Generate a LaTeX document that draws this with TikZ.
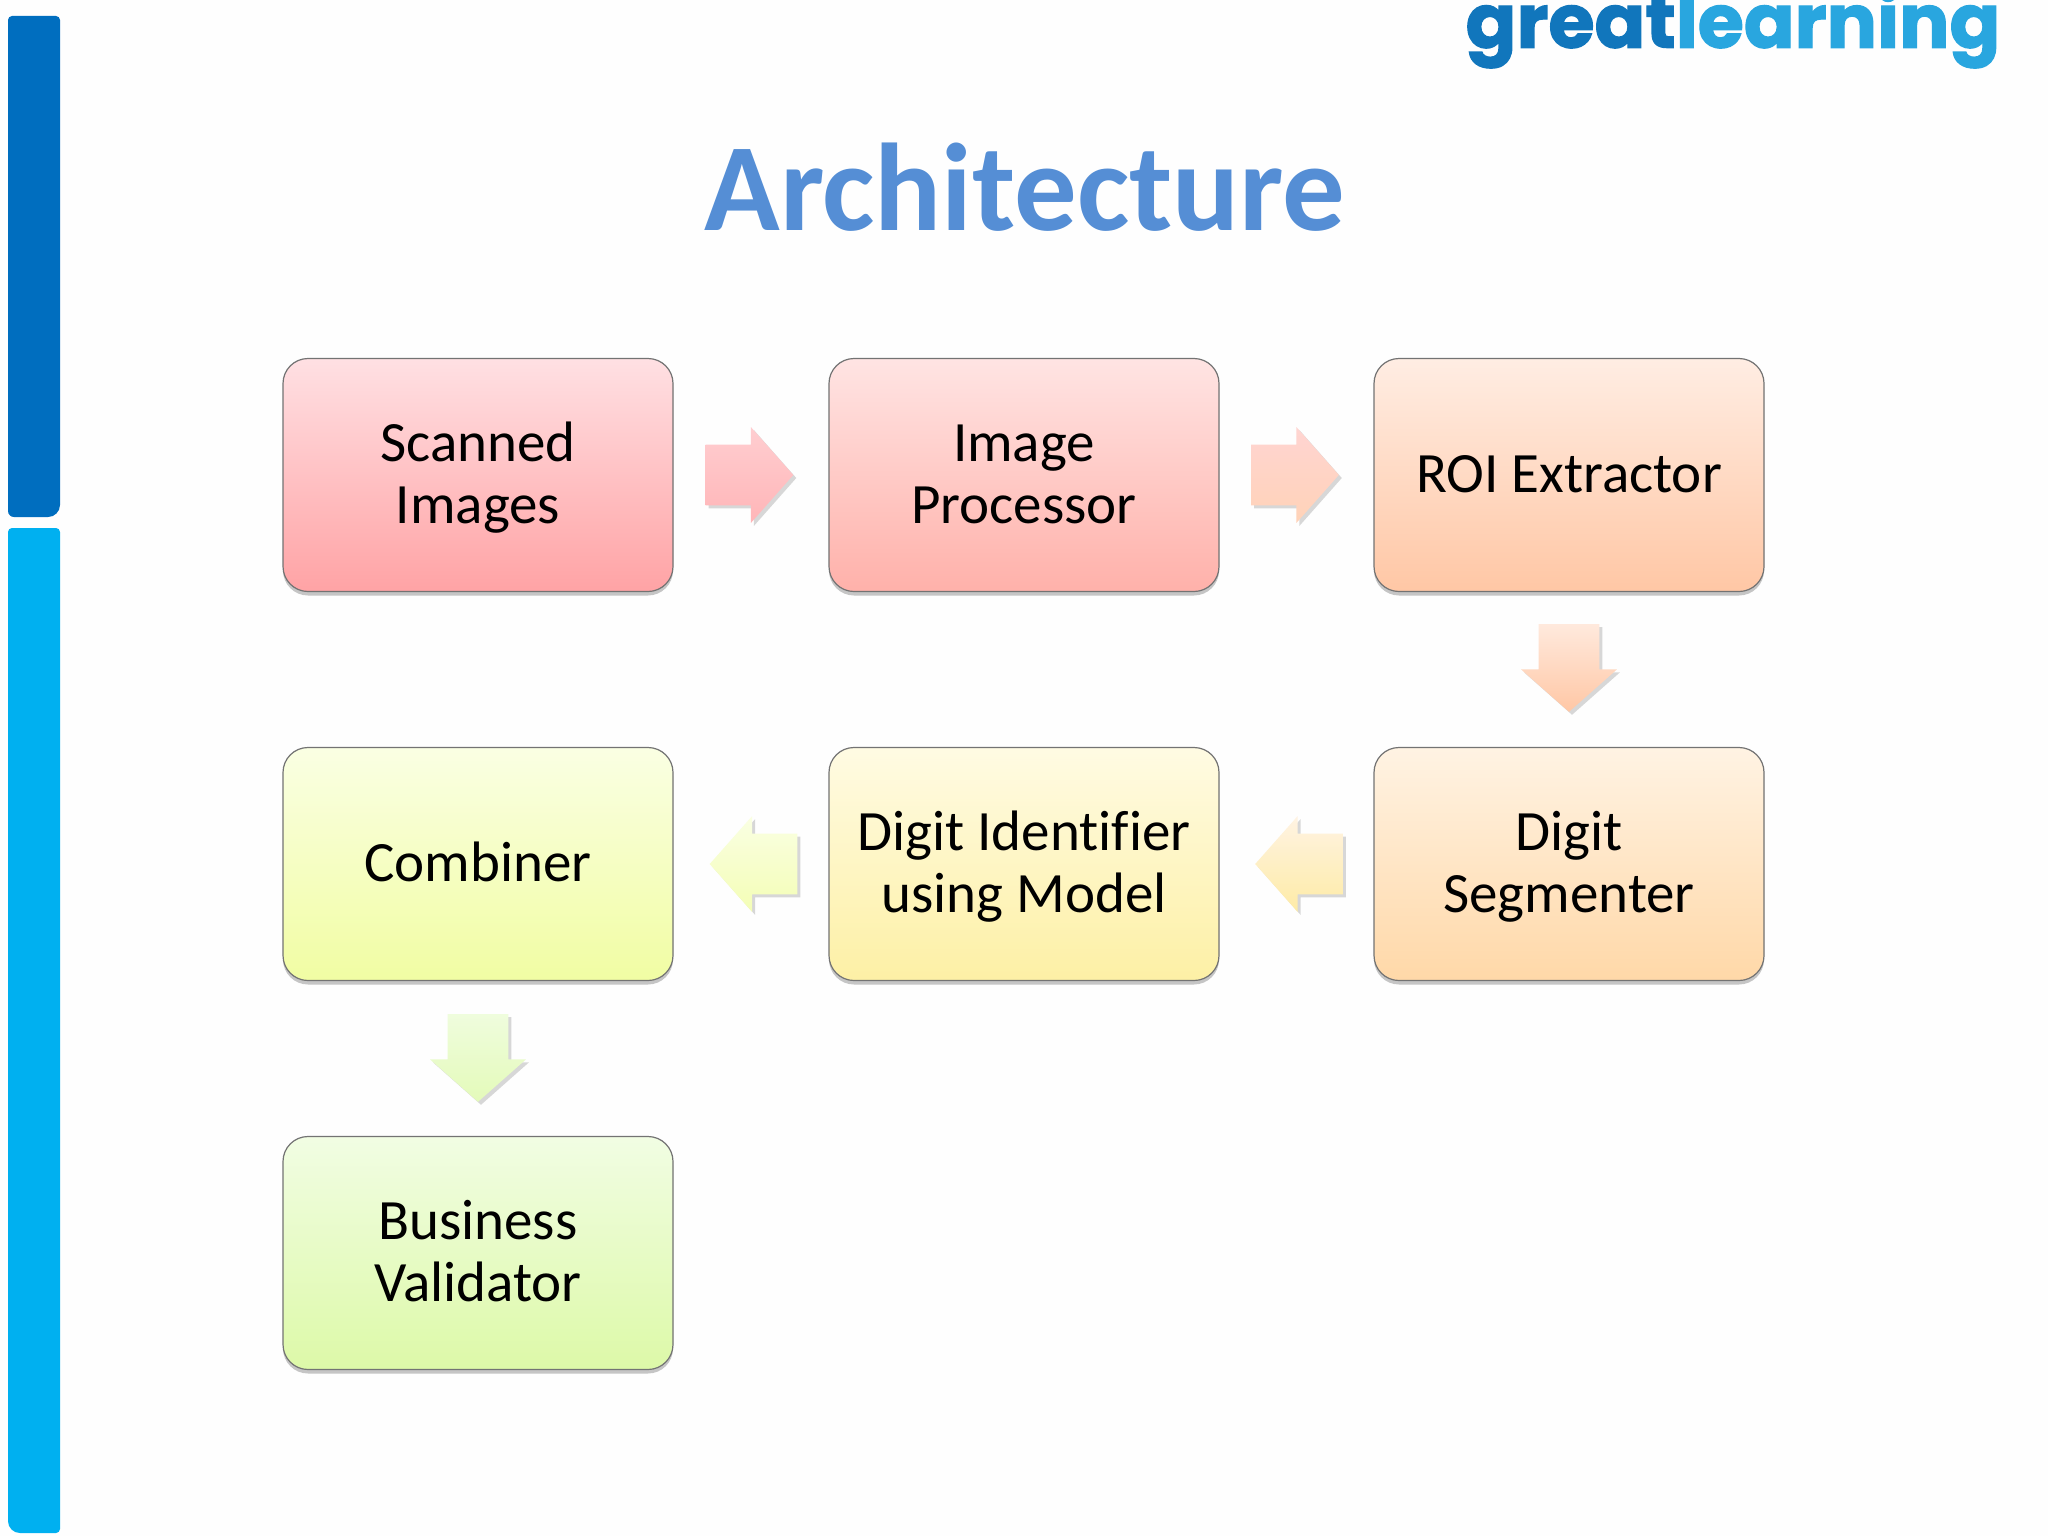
\documentclass[tikz,border=0pt]{standalone}
\usepackage{fontspec}
\setmainfont[Ligatures=NoCommon]{Carlito}
\newfontfamily\logofont[UprightFont=* Bold,FakeBold=1.6]{Poppins}
\usetikzlibrary{shapes.arrows,shadows,calc,positioning}
\definecolor{barDark}{HTML}{006EBF}
\definecolor{barLight}{HTML}{00B0F0}
\definecolor{titleBlue}{HTML}{558ED5}
\definecolor{logoDark}{HTML}{1176BC}
\definecolor{logoLight}{HTML}{29A6DF}
\definecolor{scanTop}{HTML}{FFE0E3}\definecolor{scanBot}{HTML}{FFA3A5}
\definecolor{procTop}{HTML}{FFE4E3}\definecolor{procBot}{HTML}{FFB1AA}
\definecolor{roiTop}{HTML}{FFEDE3}\definecolor{roiBot}{HTML}{FFC7A5}
\definecolor{segTop}{HTML}{FFF3E3}\definecolor{segBot}{HTML}{FFD8A8}
\definecolor{idTop}{HTML}{FFFBE3}\definecolor{idBot}{HTML}{FDF0A5}
\definecolor{combTop}{HTML}{FAFFE3}\definecolor{combBot}{HTML}{F1FDA3}
\definecolor{busTop}{HTML}{F1FDE3}\definecolor{busBot}{HTML}{DDF9A8}
\newcommand{\boxtext}[1]{\rule{0pt}{27.2pt}#1\rule[-9.5pt]{0pt}{9.5pt}}
\tikzset{
    block/.style = {draw=black!55, line width=.6pt, rectangle, rounded corners=12.5pt,
        minimum height=116.5pt,
        minimum width=195pt,
        align=center,
        font=\fontsize{28.5}{31}\selectfont,
        drop shadow={shadow xshift=0pt,shadow yshift=-2pt,opacity=.45}},
    flow/.style = {single arrow, draw=none, inner sep=15pt,
        minimum height=41pt,
        minimum width=47.5pt,
        single arrow tip angle=97,
        single arrow head extend=8.75pt,
        single arrow head indent=0pt,
        drop shadow={shadow xshift=1.5pt,shadow yshift=-1.5pt,opacity=.3}},
    shade from/.style 2 args = {top color=#1,bottom color=#2}
}
\begin{document}
\begin{tikzpicture}[x=.5pt,y=-.5pt]
    \useasboundingbox (0,0) rectangle (2048,1536);
    \fill[white!99.5!black] (0,0) rectangle (2048,1536);
    % side bars
    \fill[barDark] (8,16) [rounded corners=3pt] -- (8,517) [rounded corners=6pt] -- (60,517) [rounded corners=2pt] -- (60,16) -- cycle;
    \fill[barLight] (8,528) [rounded corners=6pt] -- (8,1533) [rounded corners=2pt] -- (60,1533) -- (60,528) -- cycle;
    % logo and title
    \node[inner sep=0pt,font=\logofont\fontsize{37.4}{37.4}\selectfont] (logo) at (1733,28)
        {\textcolor{logoDark}{great}\textcolor{logoLight}{learning}};
    \node[inner sep=0pt,text=titleBlue,font=\bfseries\fontsize{62.4}{66}\selectfont] (title) at (1025,187) {Architecture};
    % blocks
    \node[block,shade from={scanTop}{scanBot}] (scanned) at (478,475) {\boxtext{Scanned\\Images}};
    \node[block,shade from={procTop}{procBot}] (processor) at (1024,475) {\boxtext{Image\\Processor}};
    \node[block,shade from={roiTop}{roiBot}] (roi) at (1569,475) {\boxtext{ROI Extractor}};
    \node[block,shade from={segTop}{segBot}] (segmenter) at (1569,864) {\boxtext{Digit\\Segmenter}};
    \node[block,shade from={idTop}{idBot}] (identifier) at (1024,864) {\boxtext{Digit Identifier\\using Model}};
    \node[block,shade from={combTop}{combBot}] (combiner) at (478,864) {\boxtext{Combiner}};
    \node[block,shade from={busTop}{busBot}] (validator) at (478,1253) {\boxtext{Business\\Validator}};
    % arrows
    \node[flow,xshift=-7.5pt,shade from={scanTop!70!scanBot}{scanBot!70!scanTop}] (a1) at ($(scanned)!.5!(processor)$) {};
    \node[flow,xshift=-7.5pt,shade from={procTop!70!procBot}{roiBot!70!roiTop}] (a2) at ($(processor)!.5!(roi)$) {};
    \node[flow,yshift=7.5pt,shape border rotate=270,shade from={roiTop!90!roiBot}{roiBot}] (a3) at ($(roi)!.5!(segmenter)$) {};
    \node[flow,xshift=8pt,shape border rotate=180,shade from={segTop}{idBot!80!segBot}] (a4) at ($(segmenter)!.5!(identifier)$) {};
    \node[flow,xshift=8pt,shape border rotate=180,shade from={combTop}{combBot!80!white}] (a5) at ($(identifier)!.5!(combiner)$) {};
    \node[flow,yshift=7pt,shape border rotate=270,shade from={busTop!90!busBot}{busBot!80!white}] (a6) at ($(combiner)!.5!(validator)$) {};
\end{tikzpicture}
\end{document}
